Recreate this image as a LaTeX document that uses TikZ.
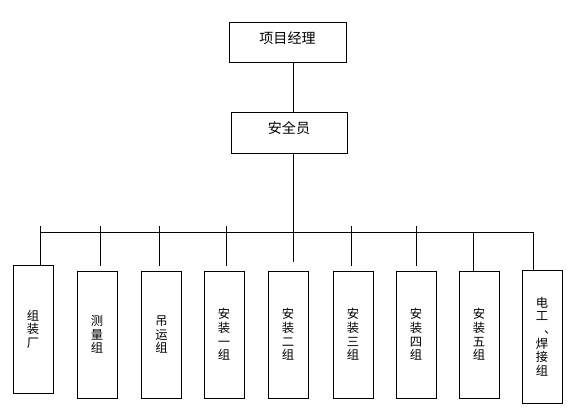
\documentclass[tikz,border=0pt]{standalone}
\usepackage{fontspec}
\newfontfamily\cjk{Noto Sans CJK SC}
\usetikzlibrary{positioning}

\begin{document}
\begin{tikzpicture}[x=0.3mm, y=-0.3mm,
        line width=0.8pt,
        head/.style={draw, minimum width=35.1mm, minimum height=12mm, inner sep=0pt,
                     text height=9pt, text depth=7pt, font=\cjk\fontsize{12}{14}\selectfont},
        team/.style={draw, minimum width=12mm, minimum height=38.1mm, inner sep=0pt,
                     align=center, font=\cjk\fontsize{10.5}{11.6}\selectfont}]

        \useasboundingbox (0,0) rectangle (588,414);

        % Top: manager and safety officer
        \node[head] (pm) at (287.5, 42) {项目经理};
        \node[head, minimum width=34.8mm, minimum height=12.3mm] (aqy) at (289, 132.5) {安全员};

        % Bottom row: working groups
        \node[team, minimum height=38.4mm] (g1) at (33, 329) {组\\装\\厂};
        \node[team] (g2) at (97, 334.5) {测\\量\\组};
        \node[team] (g3) at (161.5, 334.5) {吊\\运\\组};
        \node[team] (g4) at (224, 334.5) {安\\装\\一\\组};
        \node[team] (g5) at (288, 334.5) {安\\装\\二\\组};
        \node[team] (g6) at (353, 334.5) {安\\装\\三\\组};
        \node[team] (g7) at (416, 334.5) {安\\装\\四\\组};
        \node[team] (g8) at (479, 334.5) {安\\装\\五\\组};
        \node[team, minimum height=39.9mm] (g9) at (542, 336.5)
            {电\\工\\\raisebox{1pt}{\kern14pt 、}\\焊\\接\\组};

        % Trunk and bus
        \coordinate (trunk) at (293, 0);
        \coordinate (busL) at (40, 232);
        \coordinate (busR) at (533, 232);
        \coordinate (trunkEnd) at (293, 262);

        \draw (pm.south -| trunk) -- (aqy.north -| trunk);
        \draw (aqy.south -| trunk) -- (trunkEnd);
        \draw (busL) -- (busR) -- (g9.north -| busR);

        % Drops to the groups
        \coordinate (d1) at (40, 226);
        \coordinate (d2) at (100, 226);
        \coordinate (d3) at (159, 226);
        \coordinate (d4) at (226, 226);
        \coordinate (d6) at (351, 226);
        \coordinate (d7) at (416, 226);
        \coordinate (d8) at (473, 232);

        \draw (d1) -- (g1.north -| d1);
        \draw (d2) -- ++(0, 40);
        \draw (d3) -- ++(0, 40);
        \draw (d4) -- ++(0, 40);
        \draw (d6) -- ++(0, 40);
        \draw (d7) -- ++(0, 40);
        \draw (d8) -- ([yshift=-0.3mm]g8.north -| d8);
    \end{tikzpicture}
\end{document}
